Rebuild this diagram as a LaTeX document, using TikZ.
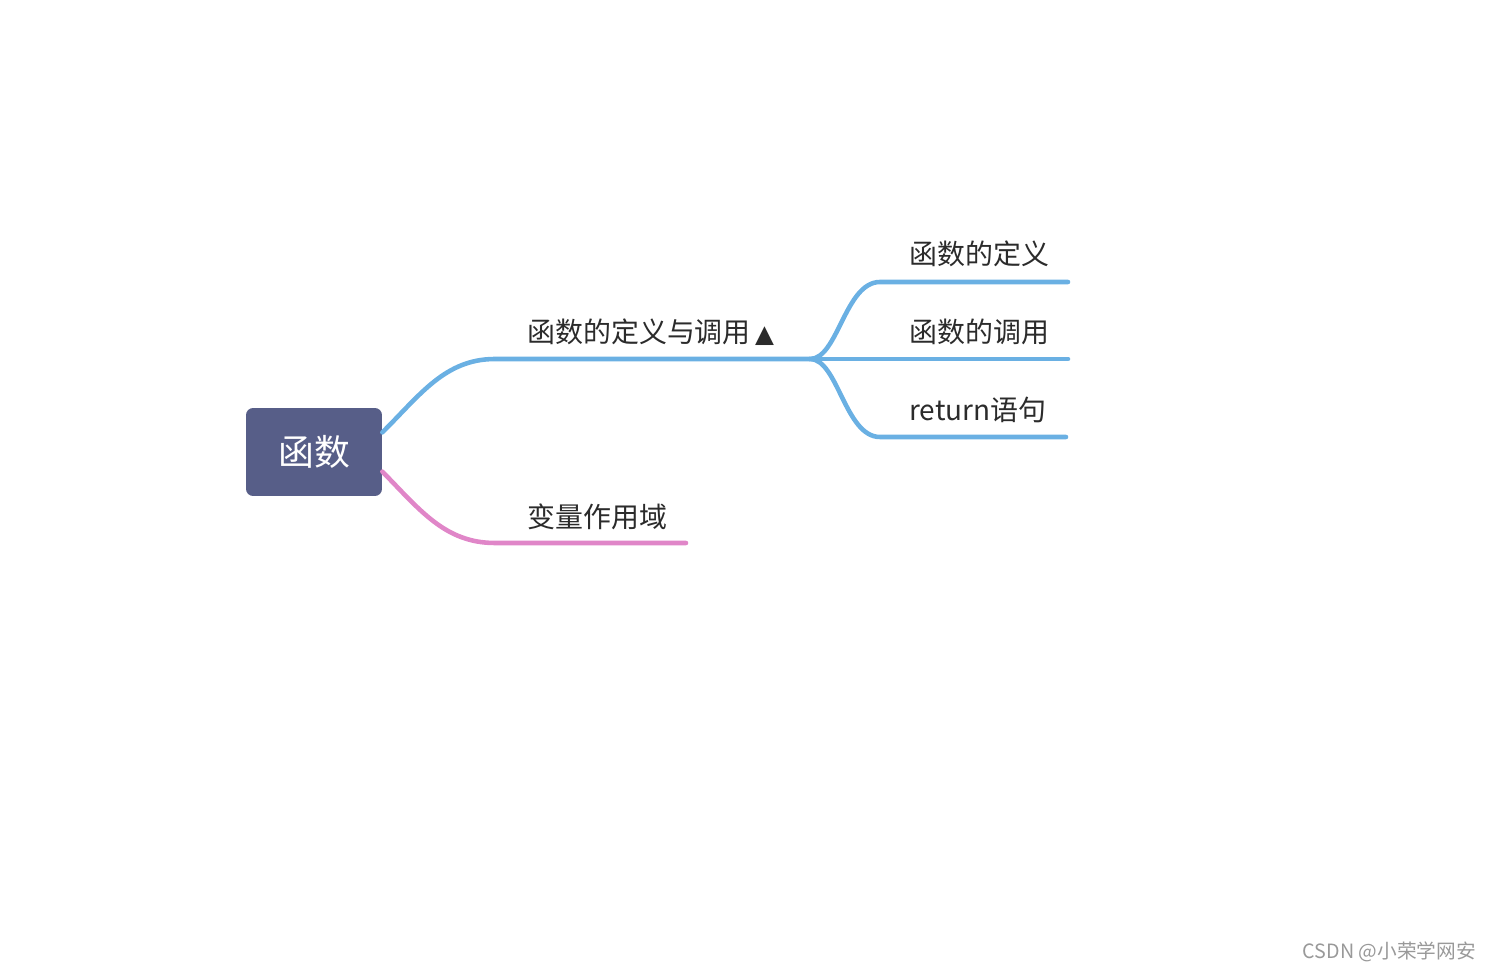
\documentclass[tikz,border=0pt]{standalone}
\usepackage{fontspec}
\setmainfont{Noto Sans CJK SC}
\newfontfamily\symfont{DejaVu Sans}
\usepackage{xcolor}
\usepackage{tikz}
\usetikzlibrary{positioning}
\definecolor{mapRoot}{HTML}{575E88}
\definecolor{mapBlue}{HTML}{6AB0E3}
\definecolor{mapPink}{HTML}{E086C8}
\definecolor{mapText}{HTML}{2B2B2B}
\newcommand{\uptri}{\hspace{2.5pt}{\symfont\fontsize{14}{17}\selectfont ▲}}
\tikzset{
  rootbox/.style={fill=mapRoot,rounded corners=4pt,text=white,
    minimum width=2.72cm,minimum height=1.76cm,
    font=\fontsize{20.4}{24}\selectfont},
  topic/.style={inner sep=0pt,text=mapText,font=\fontsize{15.9}{19}\selectfont},
  bluelink/.style={draw=mapBlue,line width=2.6pt,line cap=round},
  pinklink/.style={draw=mapPink,line width=2.6pt,line cap=round},
  watermark/.style={text=black!40,font=\fontsize{11.2}{13}\selectfont}
}
\begin{document}
\begin{tikzpicture}[x=0.02cm,y=-0.02cm]
  \useasboundingbox (0,0) rectangle (1492,972);

  \node[rootbox] (root) at (314,452) {函数};

  % first level
  \node[topic, anchor=west] (defcall) at (527,332) {函数的定义与调用\uptri};
  \node[topic, anchor=west] (scope) at (527,517) {变量作用域};
  \coordinate (defcallL) at (495,359);
  \coordinate (defcallR) at (810,359);
  \coordinate (scopeL) at (495,543);
  \coordinate (scopeR) at (686,543);

  % second level
  \node[topic, anchor=west] (define) at (909,254) {函数的定义};
  \node[topic, anchor=west] (invoke) at (909,332) {函数的调用};
  \node[topic, anchor=west] (ret) at (909,410) {return语句};
  \coordinate (defineL) at (880,282);
  \coordinate (defineR) at (1068,282);
  \coordinate (invokeR) at (1068,359);
  \coordinate (retL) at (880,437);
  \coordinate (retR) at (1066,437);

  \draw[bluelink] (root.16) .. controls (420,395) and (445,359) .. (defcallL) -- (defcallR);
  \draw[pinklink] (root.-16) .. controls (420,510) and (445,543) .. (scopeL) -- (scopeR);
  \draw[bluelink] (defcallR) .. controls (838,359) and (845,282) .. (defineL) -- (defineR);
  \draw[bluelink] (defcallR) -- (invokeR);
  \draw[bluelink] (defcallR) .. controls (838,359) and (845,437) .. (retL) -- (retR);

  \node[watermark, anchor=east] (wm) at (1482,952) {CSDN @小荣学网安};
\end{tikzpicture}
\end{document}
